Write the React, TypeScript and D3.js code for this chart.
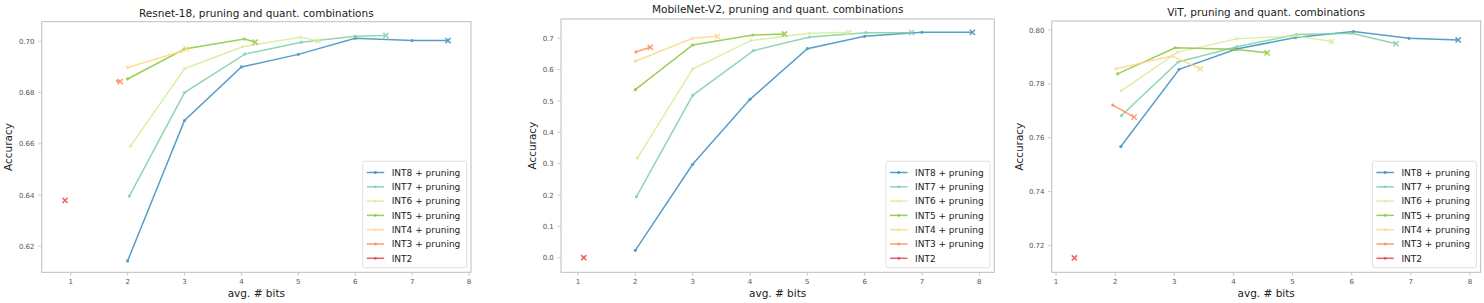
import React from "react";
import * as d3 from "d3";

const W = 1484;
const H = 303;

const seriesLabels = [
  "INT8 + pruning",
  "INT7 + pruning",
  "INT6 + pruning",
  "INT5 + pruning",
  "INT4 + pruning",
  "INT3 + pruning",
  "INT2",
];
const seriesColors = ["#3a8fc0", "#7fcfa5", "#d4ee9a", "#8cc63a", "#fed886", "#fc8d59", "#e8434a"];

const xTicks = [1, 2, 3, 4, 5, 6, 7, 8];

// Resnet-18 : [avg bits, accuracy]
const resnetInt8 = [[2.0, 0.6143], [3.0, 0.6691], [4.0, 0.69], [5.0, 0.6949], [6.0, 0.7012], [7.0, 0.7003], [7.63, 0.7003]];
const resnetInt7 = [[2.03, 0.6396], [3.0, 0.68], [4.06, 0.695], [5.05, 0.6996], [6.0, 0.702], [6.54, 0.7023]];
const resnetInt6 = [[2.05, 0.6591], [3.0, 0.6893], [4.02, 0.6979], [5.04, 0.7016], [5.35, 0.7001]];
const resnetInt5 = [[2.0, 0.6853], [3.0, 0.697], [4.05, 0.7009], [4.24, 0.6997]];
const resnetInt4 = [[2.0, 0.6898], [2.95, 0.6961], [3.03, 0.697]];
const resnetInt3 = [[1.82, 0.6845], [1.87, 0.6843]];
const resnetInt2 = [[0.9, 0.6379]];
const resnetYTicks = [0.62, 0.64, 0.66, 0.68, 0.7];

// MobileNet-V2
const mobileInt8 = [[2.0, 0.0234], [3.0, 0.2979], [4.0, 0.5053], [5.0, 0.667], [6.0, 0.7064], [7.0, 0.719], [7.88, 0.719]];
const mobileInt7 = [[2.02, 0.1947], [3.0, 0.518], [4.06, 0.6606], [5.04, 0.704], [6.02, 0.718], [6.82, 0.718]];
const mobileInt6 = [[2.035, 0.318], [3.0, 0.602], [4.01, 0.6926], [5.03, 0.716], [5.73, 0.719]];
const mobileInt5 = [[2.0, 0.536], [3.0, 0.6787], [4.05, 0.7106], [4.6, 0.7138]];
const mobileInt4 = [[2.0, 0.6266], [3.0, 0.7], [3.43, 0.7064]];
const mobileInt3 = [[2.01, 0.6564], [2.26, 0.6713]];
const mobileInt2 = [[1.1, 0.0]];
const mobileYTicks = [0.0, 0.1, 0.2, 0.3, 0.4, 0.5, 0.6, 0.7];

// ViT
const vitInt8 = [[2.096, 0.7567], [3.083, 0.7854], [4.05, 0.7929], [5.05, 0.7972], [6.03, 0.7994], [6.97, 0.7969], [7.8, 0.7963]];
const vitInt7 = [[2.107, 0.7682], [3.066, 0.7881], [4.06, 0.7938], [5.06, 0.7983], [6.0, 0.7988], [6.75, 0.7949]];
const vitInt6 = [[2.107, 0.7775], [3.05, 0.7917], [4.05, 0.7967], [5.05, 0.7978], [5.66, 0.7957]];
const vitInt5 = [[2.04, 0.7837], [3.015, 0.7934], [4.01, 0.7928], [4.57, 0.7915]];
const vitInt4 = [[2.017, 0.7856], [2.96, 0.7903], [3.44, 0.7856]];
const vitInt3 = [[1.96, 0.7721], [2.32, 0.7676]];
const vitInt2 = [[1.31, 0.7153]];
const vitYTicks = [0.72, 0.74, 0.76, 0.78, 0.8];

const FONT = "'DejaVu Sans', sans-serif";

type Panel = {
  title: string;
  series: number[][][];
  yTicks: number[];
  fmt: (v: number) => string;
  box: { l: number; r: number; t: number; b: number };
  xDom: [number, number];
  yDom: [number, number];
  titleY: number;
  ylabelX: number;
};

const panels: Panel[] = [
  {
    title: "Resnet-18, pruning and quant. combinations",
    series: [resnetInt8, resnetInt7, resnetInt6, resnetInt5, resnetInt4, resnetInt3, resnetInt2],
    yTicks: resnetYTicks,
    fmt: d3.format(".2f"),
    box: { l: 41.7, r: 471, t: 21.7, b: 272.3 },
    xDom: [0.49, 8.035],
    yDom: [0.60985, 0.70765],
    titleY: 17,
    ylabelX: 12,
  },
  {
    title: "MobileNet-V2, pruning and quant. combinations",
    series: [mobileInt8, mobileInt7, mobileInt6, mobileInt5, mobileInt4, mobileInt3, mobileInt2],
    yTicks: mobileYTicks,
    fmt: d3.format(".1f"),
    box: { l: 561, r: 994.3, t: 19, b: 272.3 },
    xDom: [0.7035, 8.2616],
    yDom: [-0.0466, 0.7616],
    titleY: 12.8,
    ylabelX: 536.4,
  },
  {
    title: "ViT, pruning and quant. combinations",
    series: [vitInt8, vitInt7, vitInt6, vitInt5, vitInt4, vitInt3, vitInt2],
    yTicks: vitYTicks,
    fmt: d3.format(".2f"),
    box: { l: 1051.7, r: 1480.7, t: 21, b: 272.3 },
    xDom: [0.927, 8.181],
    yDom: [0.70997, 0.80334],
    titleY: 16,
    ylabelX: 1022.7,
  },
];

function PanelView({ p }: { p: Panel }) {
  const { l, r, t, b } = p.box;
  const x = d3.scaleLinear().domain(p.xDom).range([l, r]);
  const y = d3.scaleLinear().domain(p.yDom).range([b, t]);
  const line = d3
    .line<number[]>()
    .x((d) => x(d[0]))
    .y((d) => y(d[1]));
  const cx = (l + r) / 2;
  const cy = (t + b) / 2;
  const legW = 104;
  const legH = 106.5;
  const legX = r - 4.3 - legW;
  const legY = b - 4.6 - legH;
  const spineColor = "#bdbdbd";
  const tickText = "#555";
  return (
    <g>
      <text x={cx} y={p.titleY} fontSize={10.5} fontFamily={FONT} fill="#222" textAnchor="middle">
        {p.title}
      </text>
      {/* ticks */}
      {xTicks.map((v) => (
        <g key={"x" + v}>
          <line x1={x(v)} x2={x(v)} y1={b} y2={b + 3.5} stroke={spineColor} strokeWidth={0.8} />
          <text x={x(v)} y={b + 11.5} fontSize={7} fontFamily={FONT} fill={tickText} textAnchor="middle">
            {v}
          </text>
        </g>
      ))}
      {p.yTicks.map((v) => (
        <g key={"y" + v}>
          <line x1={l - 3.5} x2={l} y1={y(v)} y2={y(v)} stroke={spineColor} strokeWidth={0.8} />
          <text x={l - 7.2} y={y(v)} dy="0.36em" fontSize={7} fontFamily={FONT} fill={tickText} textAnchor="end">
            {p.fmt(v)}
          </text>
        </g>
      ))}
      <text x={cx} y={297} fontSize={10.5} fontFamily={FONT} fill="#222" textAnchor="middle">
        avg. # bits
      </text>
      <text
        transform={`translate(${p.ylabelX},${cy}) rotate(-90)`}
        fontSize={10.5}
        fontFamily={FONT}
        fill="#222"
        textAnchor="middle"
      >
        Accuracy
      </text>
      {/* series */}
      {p.series.map((s, i) => {
        const last = s[s.length - 1];
        const lx = x(last[0]);
        const ly = y(last[1]);
        const c = seriesColors[i];
        return (
          <g key={"s" + i} opacity={0.85}>
            {s.length > 1 && <path d={line(s) || ""} fill="none" stroke={c} strokeWidth={1.5} />}
            {s.slice(0, -1).map((d, j) => (
              <circle key={j} cx={x(d[0])} cy={y(d[1])} r={1.6} fill={c} />
            ))}
            <path
              d={`M${lx - 2.6},${ly - 2.6}L${lx + 2.6},${ly + 2.6}M${lx - 2.6},${ly + 2.6}L${lx + 2.6},${ly - 2.6}`}
              stroke={c}
              strokeWidth={1.5}
              fill="none"
            />
          </g>
        );
      })}
      {/* frame */}
      <rect x={l} y={t} width={r - l} height={b - t} fill="none" stroke={spineColor} strokeWidth={1} />
      {/* legend */}
      <rect x={legX} y={legY} width={legW} height={legH} rx={2} fill="#fff" fillOpacity={0.8} stroke="#d8d8d8" strokeWidth={0.8} />
      {seriesLabels.map((lab, i) => {
        const yy = legY + 11.3 + i * 14.3;
        return (
          <g key={"l" + i}>
            <line x1={legX + 4} x2={legX + 21.5} y1={yy} y2={yy} stroke={seriesColors[i]} strokeWidth={1.5} opacity={0.85} />
            <circle cx={legX + 12.75} cy={yy} r={1.4} fill={seriesColors[i]} opacity={0.85} />
            <text x={legX + 29} y={yy} dy="0.36em" fontSize={9} fontFamily={FONT} fill="#222">
              {lab}
            </text>
          </g>
        );
      })}
    </g>
  );
}

export default function App() {
  return (
    <svg
      width={W}
      height={H}
      viewBox={`0 0 ${W} ${H}`}
      style={{ position: "absolute", left: 0, top: 0, background: "#fff" }}
    >
      <rect x={0} y={0} width={W} height={H} fill="#fff" />
      {panels.map((p, i) => (
        <PanelView key={i} p={p} />
      ))}
    </svg>
  );
}
